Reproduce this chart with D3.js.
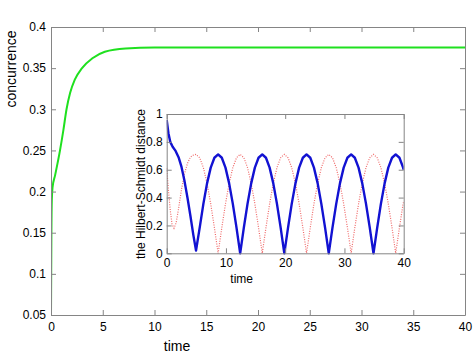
<!DOCTYPE html>
<html>
<head>
<meta charset="utf-8">
<script src="https://cdn.jsdelivr.net/npm/d3@7"></script>
<style>
html,body{margin:0;padding:0;background:#fff;}
svg{display:block;}
text{font-family:"Liberation Sans",Arial,sans-serif;fill:#000;}
</style>
</head>
<body>
<svg id="chart" width="474" height="355"></svg>
<script>
// ---- Main chart data (concurrence vs time)
const greenT = [0,0.02,0.04,0.08,0.15,0.4,0.87,1.2,1.5,1.85,2.3,3.0,4.0,5.2,7.2,10,15,20,25,30,35,40];
const greenV = [0.05,0.10,0.15,0.19,0.205,0.22,0.25,0.275,0.30,0.32,0.336,0.35,0.362,0.37,0.374,0.375,0.375,0.375,0.375,0.375,0.375,0.375];

// ---- Inset data (Hilbert-Schmidt distance vs time)
const blueT = [0,0.3,0.6,1.0,1.5,2.0,2.5,3.0,3.5,4.0,4.5,4.95,
  5.57,6.19,6.81,7.43,8.05,8.68,9.30,9.92,10.54,11.16,11.78,12.4,
  13.02,13.64,14.26,14.88,15.50,16.13,16.75,17.37,17.99,18.61,19.23,19.85,
  20.48,21.10,21.73,22.35,22.98,23.6,24.23,24.85,25.48,26.10,26.73,27.35,
  27.98,28.61,29.24,29.87,30.50,31.13,31.75,32.38,33.01,33.64,34.27,34.9,
  35.53,36.15,36.78,37.4,38.03,38.65,39.28,39.9,40];
const blueV = [0.957,0.86,0.80,0.765,0.735,0.69,0.62,0.52,0.40,0.27,0.13,0.02,
  0.184,0.355,0.502,0.615,0.686,0.71,0.686,0.615,0.502,0.355,0.184,0,
  0.184,0.355,0.502,0.615,0.686,0.71,0.686,0.615,0.502,0.355,0.184,0,
  0.184,0.355,0.502,0.615,0.686,0.71,0.686,0.615,0.502,0.355,0.184,0,
  0.184,0.355,0.502,0.615,0.686,0.71,0.686,0.615,0.502,0.355,0.184,0,
  0.184,0.355,0.502,0.615,0.686,0.71,0.686,0.615,0.60];
const redT = [0,0.3,0.6,0.9,1.23,1.6,2.0,2.5,3.0,3.5,4.0,4.5,4.95,
  5.57,6.19,6.81,7.43,8.05,8.68,
  9.30,9.92,10.54,11.16,11.78,12.4,13.02,13.64,14.26,14.88,15.50,16.13,
  16.75,17.37,17.99,18.61,19.23,19.85,20.48,21.10,21.73,22.35,22.98,23.6,
  24.23,24.85,25.48,26.10,26.73,27.35,27.98,28.61,29.24,29.87,30.50,31.13,
  31.75,32.38,33.01,33.64,34.27,34.9,35.53,36.15,36.78,37.4,38.03,38.65,
  39.28,39.9,40];
const redV = [0.61,0.45,0.31,0.21,0.18,0.22,0.32,0.46,0.57,0.645,0.69,0.705,0.71,
  0.686,0.615,0.502,0.355,0.184,0,
  0.184,0.355,0.502,0.615,0.686,0.71,0.686,0.615,0.502,0.355,0.184,0,
  0.184,0.355,0.502,0.615,0.686,0.71,0.686,0.615,0.502,0.355,0.184,0,
  0.184,0.355,0.502,0.615,0.686,0.71,0.686,0.615,0.502,0.355,0.184,0,
  0.184,0.355,0.502,0.615,0.686,0.71,0.686,0.615,0.502,0.355,0.184,0,
  0.184,0.355,0.37];

// ---- Tick labels
const mainXTicks = [0,5,10,15,20,25,30,35,40];
const mainXLabels = ["0","5","10","15","20","25","30","35","40"];
const mainYTicks = [0.05,0.1,0.15,0.2,0.25,0.3,0.35,0.4];
const mainYLabels = ["0.05","0.1","0.15","0.2","0.25","0.3","0.35","0.4"];
const insetXTicks = [0,10,20,30,40];
const insetXLabels = ["0","10","20","30","40"];
const insetYTicks = [0,0.2,0.4,0.6,0.8,1];
const insetYLabels = ["0","0.2","0.4","0.6","0.8","1"];

const svg = d3.select("#chart");
svg.append("rect").attr("width",474).attr("height",355).attr("fill","#fff");
const axisColor = "#858585";

function drawBox(g, x, y, xt, xl, yt, yl, fs, pad){
  const [x0,x1] = x.range(), [y0,y1] = y.range();
  const bottom = d3.axisBottom(x).tickValues(xt).tickFormat((d,i)=>xl[i]).tickSize(-5).tickSizeOuter(0).tickPadding(pad.x);
  const top = d3.axisTop(x).tickValues(xt).tickFormat("").tickSize(-5).tickSizeOuter(0);
  const left = d3.axisLeft(y).tickValues(yt).tickFormat((d,i)=>yl[i]).tickSize(-5).tickSizeOuter(0).tickPadding(pad.y);
  const right = d3.axisRight(y).tickValues(yt).tickFormat("").tickSize(-5).tickSizeOuter(0);
  const gb = g.append("g").attr("transform",`translate(0,${y0})`).call(bottom);
  const gt = g.append("g").attr("transform",`translate(0,${y1})`).call(top);
  const gl = g.append("g").attr("transform",`translate(${x0},0)`).call(left);
  const gr = g.append("g").attr("transform",`translate(${x1},0)`).call(right);
  [gb,gt,gl,gr].forEach(a=>{
    a.select(".domain").attr("stroke",axisColor).attr("stroke-width",1);
    a.selectAll(".tick line").attr("stroke",axisColor).attr("stroke-width",1);
    a.selectAll("text").attr("font-size",fs).attr("font-family","Liberation Sans, Arial, sans-serif").attr("fill","#000");
  });
}

// ---- Main chart
const x = d3.scaleLinear().domain([0,40]).range([51,465]);
const y = d3.scaleLinear().domain([0.05,0.4]).range([315,27]);
const main = svg.append("g");
main.append("clipPath").attr("id","clipMain").append("rect")
  .attr("x",51).attr("y",27).attr("width",414).attr("height",288);
const greenData = greenT.map((t,i)=>[t,greenV[i]]);
main.append("path").datum(greenData)
  .attr("clip-path","url(#clipMain)")
  .attr("fill","none").attr("stroke","#1fe01f").attr("stroke-width",2)
  .attr("d", d3.line().x(d=>x(d[0])).y(d=>y(d[1])).curve(d3.curveMonotoneX));
drawBox(main, x, y, mainXTicks, mainXLabels, mainYTicks, mainYLabels, 12, {x:7, y:5});
main.append("text").attr("transform","translate(16,69) rotate(-90)")
  .attr("text-anchor","middle").attr("font-size",14).text("concurrence");
main.append("text").attr("x",177).attr("y",351)
  .attr("text-anchor","middle").attr("font-size",14).text("time");

// ---- Inset
const xi = d3.scaleLinear().domain([0,40]).range([166.7,403.7]);
const yi = d3.scaleLinear().domain([0,1]).range([253.3,114]);
const inset = svg.append("g");
inset.append("rect").attr("x",166.7).attr("y",114).attr("width",237).attr("height",139.3).attr("fill","#fff");
inset.append("clipPath").attr("id","clipInset").append("rect")
  .attr("x",166.7).attr("y",112).attr("width",237).attr("height",143);
const lineI = d3.line().x(d=>xi(d[0])).y(d=>yi(d[1]));
inset.append("path").datum(redT.map((t,i)=>[t,redV[i]]))
  .attr("clip-path","url(#clipInset)")
  .attr("fill","none").attr("stroke","#f06a6a").attr("stroke-width",1.2)
  .attr("stroke-dasharray","1,1.4").attr("d", lineI);
inset.append("path").datum(blueT.map((t,i)=>[t,blueV[i]]))
  .attr("clip-path","url(#clipInset)")
  .attr("fill","none").attr("stroke","#1212d2").attr("stroke-width",2.4)
  .attr("stroke-linejoin","round").attr("d", lineI);
drawBox(inset, xi, yi, insetXTicks, insetXLabels, insetYTicks, insetYLabels, 12, {x:5, y:4});
inset.append("text").attr("transform","translate(144.5,184) rotate(-90)")
  .attr("text-anchor","middle").attr("font-size",12).text("the Hilbert-Schmidt distance");
inset.append("text").attr("x",241.7).attr("y",283)
  .attr("text-anchor","middle").attr("font-size",12).text("time");
</script>
</body>
</html>
